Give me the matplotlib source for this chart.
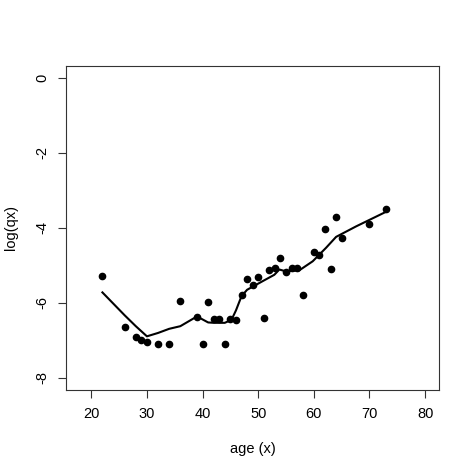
import numpy as np
import matplotlib
matplotlib.use("Agg")
import matplotlib.pyplot as plt

plt.rcParams['font.family'] = ['Liberation Sans', 'DejaVu Sans']

# observed log mortality by age
age = [22, 26, 28, 29, 30, 32, 34, 36, 39, 40, 41, 42, 43, 44, 45, 46, 47, 48,
       49, 50, 51, 52, 53, 54, 55, 56, 57, 58, 60, 61, 62, 63, 64, 65, 70, 73]
log_qx = [-5.28, -6.63, -6.92, -6.98, -7.04, -7.09, -7.09, -5.94, -6.38, -7.09,
          -5.97, -6.43, -6.43, -7.10, -6.43, -6.45, -5.78, -5.37, -5.53, -5.32,
          -6.40, -5.12, -5.08, -4.81, -5.17, -5.08, -5.08, -5.78, -4.64, -4.72,
          -4.02, -5.10, -3.70, -4.27, -3.90, -3.49]

# smoothed curve
smooth_age = [22, 26, 28, 30, 32, 34, 36, 39, 41, 42, 44, 45.2, 46, 47, 48,
              50.8, 52.9, 53.8, 55, 57.4, 59.8, 62.2, 64, 67.6, 73]
smooth_qx = [-5.72, -6.33, -6.62, -6.89, -6.80, -6.69, -6.62, -6.36, -6.52,
             -6.53, -6.53, -6.45, -6.20, -5.82, -5.65, -5.42, -5.25, -5.11,
             -5.16, -5.13, -4.89, -4.53, -4.24, -3.96, -3.57]

fig = plt.figure(figsize=(4.74, 4.73), dpi=100)
ax = fig.add_axes([0.140, 0.1755, 0.786, 0.6855])

ax.plot(age, log_qx, 'o', color='black', markersize=4.5)
ax.plot(smooth_age, smooth_qx, '-', color='black', linewidth=1.5)

ax.set_xlim(15.52, 82.48)
ax.set_ylim(-8.32, 0.32)
ax.set_xticks(np.arange(20, 81, 10))
ax.set_yticks([0, -2, -4, -6, -8])
ax.set_yticklabels(['0', '-2', '-4', '-6', '-8'], rotation=90, va='center')

ax.tick_params(axis='both', direction='out', length=5.5, width=0.8,
               labelsize=10.5, pad=7, color='#333333')
for s in ax.spines.values():
    s.set_linewidth(0.8)
    s.set_color('#333333')

ax.set_xlabel('age (x)', fontsize=10.5, labelpad=15)
ax.set_ylabel('log(qx)', fontsize=10.5, labelpad=12)

fig.savefig('out.png', dpi=100)
